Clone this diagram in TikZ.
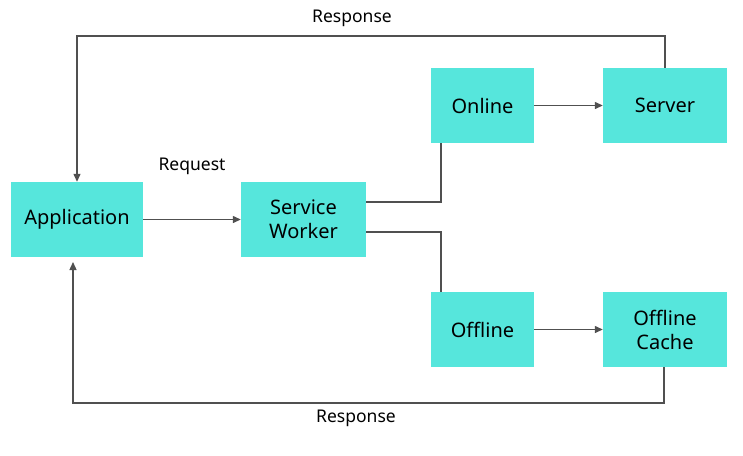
\documentclass[tikz,border=0pt]{standalone}
\usepackage{fontspec}
\setmainfont{Noto Sans}
\usetikzlibrary{arrows.meta}
\definecolor{boxfill}{RGB}{86,230,220}
\definecolor{linegray}{RGB}{80,80,80}
\begin{document}
\begin{tikzpicture}[x=1pt,y=-1pt,
  box/.style={draw=none, fill=boxfill, minimum width=#1, minimum height=75pt, inner sep=0pt, align=center, font=\fontsize{20}{24}\selectfont},
  conn/.style={draw=linegray, line width=1.3pt},
  arr/.style={conn, -{Triangle[length=8pt,width=7pt]}},
  lbl/.style={font=\fontsize{17.5}{20}\selectfont, inner sep=0pt}]
\useasboundingbox (0,0) rectangle (743,455);
\fill[white] (0,0) rectangle (743,455);
\node[box=132pt] (app) at (77,219.5) {Application};
\node[box=125pt] (sw) at (303.5,219.5) {Service\\Worker};
\node[box=103pt] (on) at (482.5,105.5) {Online};
\node[box=124pt] (srv) at (665,105.5) {Server};
\node[box=103pt] (off) at (482.5,329.5) {Offline};
\node[box=124pt] (cache) at (665,329.5) {Offline\\Cache};
\coordinate (topL) at (77,36);
\coordinate (topR) at (665,36);
\coordinate (botL) at (73,403);
\coordinate (botR) at (664,403);
\coordinate (appb) at (73,262);
\draw[arr] (app.east) -- (sw.west);
\draw[conn] (sw.east |- 0,202) -| (on.south -| 441,0);
\draw[conn] (sw.east |- 0,232) -| (off.north -| 441,0);
\draw[arr] (on.east) -- (srv.west);
\draw[arr] (off.east) -- (cache.west);
\draw[arr] (srv.north) -- (topR) -- (topL) -- (app.north);
\draw[arr] (cache.south -| botR) -- (botR) -- (botL) -- (appb);
\node[lbl] (req) at (192,166) {Request};
\node[lbl] (resp1) at (352,18) {Response};
\node[lbl] (resp2) at (356,418) {Response};
\end{tikzpicture}
\end{document}
